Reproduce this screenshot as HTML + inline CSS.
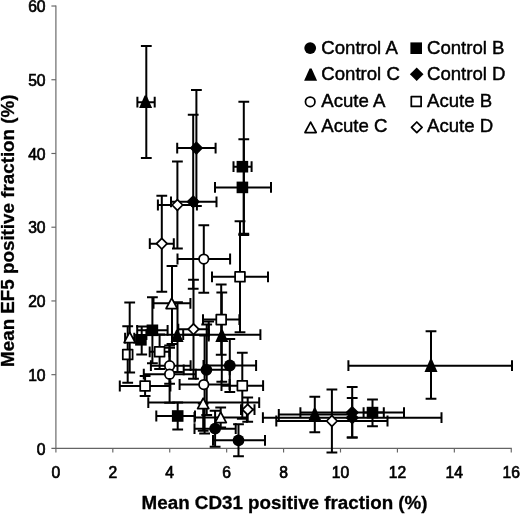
<!DOCTYPE html>
<html lang="en"><head><meta charset="utf-8"><title>Mean EF5 positive fraction vs Mean CD31 positive fraction</title>
<style>html,body{margin:0;padding:0;background:#fff}body{width:520px;height:514px;overflow:hidden}</style></head>
<body>
<svg width="520" height="514" viewBox="0 0 520 514" style="display:block">
<rect width="520" height="514" fill="#fff"/>
<g stroke="#646464" stroke-width="1.15" fill="none">
<line x1="55.9" y1="5.4" x2="55.9" y2="452.5"/>
<line x1="51.4" y1="448.4" x2="511.8" y2="448.4"/>
<line x1="51.4" y1="374.67" x2="55.9" y2="374.67"/>
<line x1="51.4" y1="300.94" x2="55.9" y2="300.94"/>
<line x1="51.4" y1="227.21" x2="55.9" y2="227.21"/>
<line x1="51.4" y1="153.48" x2="55.9" y2="153.48"/>
<line x1="51.4" y1="79.75" x2="55.9" y2="79.75"/>
<line x1="51.4" y1="6.02" x2="55.9" y2="6.02"/>
<line x1="112.82" y1="448.4" x2="112.82" y2="452.5"/>
<line x1="169.74" y1="448.4" x2="169.74" y2="452.5"/>
<line x1="226.66" y1="448.4" x2="226.66" y2="452.5"/>
<line x1="283.58" y1="448.4" x2="283.58" y2="452.5"/>
<line x1="340.50" y1="448.4" x2="340.50" y2="452.5"/>
<line x1="397.42" y1="448.4" x2="397.42" y2="452.5"/>
<line x1="454.34" y1="448.4" x2="454.34" y2="452.5"/>
<line x1="511.26" y1="448.4" x2="511.26" y2="452.5"/>
</g>
<g font-family="'Liberation Sans', sans-serif" font-size="15.7" fill="#000" stroke="#000" stroke-width="0.65">
<text x="45.6" y="454.6" text-anchor="end">0</text>
<text x="45.6" y="380.9" text-anchor="end">10</text>
<text x="45.6" y="307.1" text-anchor="end">20</text>
<text x="45.6" y="233.4" text-anchor="end">30</text>
<text x="45.6" y="159.7" text-anchor="end">40</text>
<text x="45.6" y="85.9" text-anchor="end">50</text>
<text x="45.6" y="12.2" text-anchor="end">60</text>
<text x="55.9" y="477.6" text-anchor="middle">0</text>
<text x="112.8" y="477.6" text-anchor="middle">2</text>
<text x="169.7" y="477.6" text-anchor="middle">4</text>
<text x="226.7" y="477.6" text-anchor="middle">6</text>
<text x="283.6" y="477.6" text-anchor="middle">8</text>
<text x="340.5" y="477.6" text-anchor="middle">10</text>
<text x="397.4" y="477.6" text-anchor="middle">12</text>
<text x="454.3" y="477.6" text-anchor="middle">14</text>
<text x="511.3" y="477.6" text-anchor="middle">16</text>
</g>
<g font-family="'Liberation Sans', sans-serif" font-size="18.8" font-weight="bold" fill="#000" stroke="#000" stroke-width="0.3">
<text x="284.6" y="508.6" text-anchor="middle">Mean CD31 positive fraction (%)</text>
<text transform="translate(13.9,230.7) rotate(-90)" text-anchor="middle" font-size="18.8">Mean EF5 positive fraction (%)</text>
</g>
<g font-family="'Liberation Sans', sans-serif" font-size="18.6" fill="#000" stroke="#000" stroke-width="0.45">
<circle cx="310.2" cy="48.1" r="5.9" fill="#000" stroke="none"/>
<text x="321.3" y="54.3">Control A</text>
<rect x="410.4" y="42.4" width="11.6" height="11.6" fill="#000" stroke="none"/>
<text x="427" y="54.3">Control B</text>
<polygon points="309.6,68.4 311.6,68.4 317.1,80.8 304.1,80.8" fill="#000" stroke="none"/>
<text x="321.3" y="80">Control C</text>
<polygon points="416.7,67.5 423.5,74.3 416.7,81.1 409.9,74.3" fill="#000" stroke="none"/>
<text x="427" y="80">Control D</text>
<circle cx="310.2" cy="101.8" r="4.75" fill="#fff" stroke="#000" stroke-width="1.75" stroke-linejoin="round"/>
<text x="321.3" y="107.2">Acute A</text>
<rect x="411.3" y="96.6" width="9.8" height="9.8" fill="#fff" stroke="#000" stroke-width="1.75" stroke-linejoin="round"/>
<text x="427" y="107.2">Acute B</text>
<polygon points="310.6,122.1 310.6,122.1 316.2,132.5 305.0,132.5" fill="#fff" stroke="#000" stroke-width="1.75" stroke-linejoin="round"/>
<text x="321.3" y="132.2">Acute C</text>
<polygon points="416.8,122.0 422.1,127.3 416.8,132.6 411.5,127.3" fill="#fff" stroke="#000" stroke-width="1.75" stroke-linejoin="round"/>
<text x="427" y="132.2">Acute D</text>
</g>
<path d="M208.7,321.5V341.5M203.3,321.5h10.8" stroke="#000" stroke-width="2" fill="none"/>
<g stroke="#000" stroke-width="2.0" fill="none">
<path d="M206.7,324.6V415.0M201.3,324.6h10.8M201.3,415.0h10.8M183.7,369.8H229.7M183.7,364.4v10.8M229.7,364.4v10.8"/>
<path d="M229.8,339.0V392.0M224.4,339.0h10.8M224.4,392.0h10.8M203.5,365.5H256.1M203.5,360.1v10.8M256.1,360.1v10.8"/>
<path d="M215.1,410.7V446.7M209.7,410.7h10.8M209.7,446.7h10.8M194.5,428.7H235.7M194.5,423.3v10.8M235.7,423.3v10.8"/>
<path d="M238.5,424.3V456.3M233.1,424.3h10.8M233.1,456.3h10.8M213.0,440.3H265.0M213.0,434.9v10.8M265.0,434.9v10.8"/>
</g>
<circle cx="206.4" cy="369.8" r="5.9" fill="#000" stroke="none"/>
<circle cx="229.8" cy="365.5" r="5.9" fill="#000" stroke="none"/>
<circle cx="215.1" cy="428.7" r="5.9" fill="#000" stroke="none"/>
<circle cx="238.5" cy="440.3" r="5.9" fill="#000" stroke="none"/>
<g stroke="#000" stroke-width="2.0" fill="none">
<path d="M243.8,101.8V233.8M238.4,101.8h10.8M238.4,233.8h10.8M233.5,166.7H251.6M233.5,161.3v10.8M251.6,161.3v10.8"/>
<path d="M243.8,139.2V235.0M238.4,139.2h10.8M238.4,235.0h10.8M215.0,187.4H271.0M215.0,182.0v10.8M271.0,182.0v10.8"/>
<path d="M141.7,326.5V354.6M136.3,326.5h10.8M136.3,354.6h10.8"/>
<path d="M152.4,297.3V363.3M147.0,297.3h10.8M147.0,363.3h10.8M137.2,330.3H167.6M137.2,324.9v10.8M167.6,324.9v10.8"/>
<path d="M177.7,402.5V429.5M172.3,402.5h10.8M172.3,429.5h10.8M156.3,416.0H195.0M156.3,410.6v10.8M195.0,410.6v10.8"/>
<path d="M372.5,399.4V426.3M367.1,399.4h10.8M367.1,426.3h10.8M363.6,412.6H383.8M363.6,407.2v10.8M383.8,407.2v10.8"/>
</g>
<rect x="236.6" y="160.9" width="11.6" height="11.6" fill="#000" stroke="none"/>
<rect x="236.6" y="181.6" width="11.6" height="11.6" fill="#000" stroke="none"/>
<rect x="135.1" y="334.0" width="11.6" height="11.6" fill="#000" stroke="none"/>
<rect x="146.6" y="324.5" width="11.6" height="11.6" fill="#000" stroke="none"/>
<rect x="171.9" y="410.2" width="11.6" height="11.6" fill="#000" stroke="none"/>
<rect x="366.7" y="406.8" width="11.6" height="11.6" fill="#000" stroke="none"/>
<g stroke="#000" stroke-width="2.0" fill="none">
<path d="M146.3,45.9V158.0M140.9,45.9h10.8M140.9,158.0h10.8M137.4,102.2H154.7M137.4,96.8v10.8M154.7,96.8v10.8"/>
<path d="M177.5,302.2V372.0M172.1,302.2h10.8M172.1,372.0h10.8M146.4,334.7H208.6M146.4,329.3v10.8M208.6,329.3v10.8"/>
<path d="M221.8,292.4V381.8M216.4,292.4h10.8M216.4,381.8h10.8M183.2,334.7H260.4M183.2,329.3v10.8M260.4,329.3v10.8"/>
<path d="M314.8,396.7V432.3M309.4,396.7h10.8M309.4,432.3h10.8M278.8,414.5H350.8M278.8,409.1v10.8M350.8,409.1v10.8"/>
<path d="M431.0,331.3V398.8M425.6,331.3h10.8M425.6,398.8h10.8M348.4,365.7H512.0M348.4,360.3v10.8M512.0,360.3v10.8"/>
</g>
<polygon points="144.6,95.6 146.6,95.6 152.1,108.0 139.1,108.0" fill="#000" stroke="none"/>
<polygon points="176.1,329.7 178.1,329.7 183.6,342.1 170.6,342.1" fill="#000" stroke="none"/>
<polygon points="220.8,329.7 222.8,329.7 228.3,342.1 215.3,342.1" fill="#000" stroke="none"/>
<polygon points="313.8,408.3 315.8,408.3 321.3,420.7 308.3,420.7" fill="#000" stroke="none"/>
<polygon points="430.0,359.5 432.0,359.5 437.5,371.9 424.5,371.9" fill="#000" stroke="none"/>
<g stroke="#000" stroke-width="2.0" fill="none">
<path d="M196.4,90.1V206.1M191.0,90.1h10.8M191.0,206.1h10.8M177.2,148.1H215.6M177.2,142.7v10.8M215.6,142.7v10.8"/>
<path d="M193.2,114.8V288.8M187.8,114.8h10.8M187.8,288.8h10.8M171.0,201.8H216.5M171.0,196.4v10.8M216.5,196.4v10.8"/>
<path d="M352.2,387.0V437.6M346.8,387.0h10.8M346.8,437.6h10.8M300.4,412.6H404.0M300.4,407.2v10.8M404.0,407.2v10.8"/>
<path d="M352.2,398.0V437.4M346.8,398.0h10.8M346.8,437.4h10.8M262.9,417.7H441.5M262.9,412.3v10.8M441.5,412.3v10.8"/>
</g>
<polygon points="196.4,141.3 203.2,148.1 196.4,154.9 189.6,148.1" fill="#000" stroke="none"/>
<polygon points="193.2,195.0 200.0,201.8 193.2,208.6 186.4,201.8" fill="#000" stroke="none"/>
<polygon points="352.2,405.8 359.0,412.6 352.2,419.4 345.4,412.6" fill="#000" stroke="none"/>
<polygon points="352.2,410.9 359.0,417.7 352.2,424.5 345.4,417.7" fill="#000" stroke="none"/>
<g stroke="#000" stroke-width="2.0" fill="none">
<path d="M203.8,225.2V292.8M198.4,225.2h10.8M198.4,292.8h10.8M177.5,259.0H230.1M177.5,253.6v10.8M230.1,253.6v10.8"/>
<path d="M169.6,347.7V383.7M164.2,347.7h10.8M164.2,383.7h10.8M150.9,365.7H190.6M150.9,360.3v10.8M190.6,360.3v10.8"/>
<path d="M169.6,345.6V402.8M164.2,345.6h10.8M164.2,402.8h10.8M143.8,374.2H195.8M143.8,368.8v10.8M195.8,368.8v10.8"/>
<path d="M204.6,335.5V433.5M199.2,335.5h10.8M199.2,433.5h10.8M179.6,384.5H229.6M179.6,379.1v10.8M229.6,379.1v10.8"/>
</g>
<circle cx="203.8" cy="259.0" r="4.75" fill="#fff" stroke="#000" stroke-width="1.75" stroke-linejoin="round"/>
<circle cx="169.6" cy="365.7" r="4.75" fill="#fff" stroke="#000" stroke-width="1.75" stroke-linejoin="round"/>
<circle cx="169.6" cy="374.2" r="4.75" fill="#fff" stroke="#000" stroke-width="1.75" stroke-linejoin="round"/>
<circle cx="203.8" cy="384.5" r="4.75" fill="#fff" stroke="#000" stroke-width="1.75" stroke-linejoin="round"/>
<g stroke="#000" stroke-width="2.0" fill="none">
<path d="M240.0,221.3V332.3M234.6,221.3h10.8M234.6,332.3h10.8M212.0,276.8H268.0M212.0,271.4v10.8M268.0,271.4v10.8"/>
<path d="M221.2,284.4V354.8M215.8,284.4h10.8M215.8,354.8h10.8M203.0,319.6H239.4M203.0,314.2v10.8M239.4,314.2v10.8"/>
<path d="M127.7,326.3V382.7M122.3,326.3h10.8M122.3,382.7h10.8"/>
<path d="M159.6,334.5V369.1M154.2,334.5h10.8M154.2,369.1h10.8M149.7,351.8H169.5M149.7,346.4v10.8M169.5,346.4v10.8"/>
<path d="M145.1,376.1V395.9M139.7,376.1h10.8M139.7,395.9h10.8M119.8,386.0H170.4M119.8,380.6v10.8M170.4,380.6v10.8"/>
<path d="M242.3,352.7V418.7M236.9,352.7h10.8M236.9,418.7h10.8M221.5,385.7H263.1M221.5,380.3v10.8M263.1,380.3v10.8"/>
</g>
<rect x="235.1" y="271.9" width="9.8" height="9.8" fill="#fff" stroke="#000" stroke-width="1.75" stroke-linejoin="round"/>
<rect x="216.3" y="314.7" width="9.8" height="9.8" fill="#fff" stroke="#000" stroke-width="1.75" stroke-linejoin="round"/>
<rect x="122.8" y="349.6" width="9.8" height="9.8" fill="#fff" stroke="#000" stroke-width="1.75" stroke-linejoin="round"/>
<rect x="154.7" y="346.9" width="9.8" height="9.8" fill="#fff" stroke="#000" stroke-width="1.75" stroke-linejoin="round"/>
<rect x="140.2" y="381.1" width="9.8" height="9.8" fill="#fff" stroke="#000" stroke-width="1.75" stroke-linejoin="round"/>
<rect x="237.4" y="380.8" width="9.8" height="9.8" fill="#fff" stroke="#000" stroke-width="1.75" stroke-linejoin="round"/>
<g stroke="#000" stroke-width="2.0" fill="none">
<path d="M172.0,265.9V344.0M166.6,265.9h10.8M166.6,344.0h10.8M153.5,303.3H190.4M153.5,297.9v10.8M190.4,297.9v10.8"/>
<path d="M129.7,302.5V372.6M124.3,302.5h10.8M124.3,372.6h10.8M125.1,338.2H134.3M125.1,332.8v10.8M134.3,332.8v10.8"/>
<path d="M203.2,403.5V430.7M197.8,403.5h10.8M197.8,430.7h10.8M148.3,402.6H259.2M148.3,397.2v10.8M259.2,397.2v10.8"/>
<path d="M220.7,407.4V427.4M215.3,407.4h10.8M215.3,427.4h10.8M194.5,417.4H246.9M194.5,412.0v10.8M246.9,412.0v10.8"/>
</g>
<polygon points="171.7,298.1 171.7,298.1 177.3,308.5 166.1,308.5" fill="#fff" stroke="#000" stroke-width="1.75" stroke-linejoin="round"/>
<polygon points="129.7,332.2 129.7,332.2 135.3,342.6 124.1,342.6" fill="#fff" stroke="#000" stroke-width="1.75" stroke-linejoin="round"/>
<polygon points="203.2,398.2 203.2,398.2 208.8,408.6 197.6,408.6" fill="#fff" stroke="#000" stroke-width="1.75" stroke-linejoin="round"/>
<polygon points="220.7,412.2 220.7,412.2 226.3,422.6 215.1,422.6" fill="#fff" stroke="#000" stroke-width="1.75" stroke-linejoin="round"/>
<g stroke="#000" stroke-width="2.0" fill="none">
<path d="M177.4,161.5V248.5M172.0,161.5h10.8M172.0,248.5h10.8M157.9,205.0H196.9M157.9,199.6v10.8M196.9,199.6v10.8"/>
<path d="M161.8,195.7V291.7M156.4,195.7h10.8M156.4,291.7h10.8M149.8,243.7H173.8M149.8,238.3v10.8M173.8,238.3v10.8"/>
<path d="M193.5,279.7V378.7M188.1,279.7h10.8M188.1,378.7h10.8M178.3,329.2H208.7M178.3,323.8v10.8M208.7,323.8v10.8"/>
<path d="M247.7,397.4V421.8M242.3,397.4h10.8M242.3,421.8h10.8M241.0,409.6H254.5M241.0,404.2v10.8M254.5,404.2v10.8"/>
<path d="M331.9,389.6V452.4M326.5,389.6h10.8M326.5,452.4h10.8M276.3,421.0H387.5M276.3,415.6v10.8M387.5,415.6v10.8"/>
</g>
<polygon points="177.4,199.7 182.7,205.0 177.4,210.3 172.1,205.0" fill="#fff" stroke="#000" stroke-width="1.75" stroke-linejoin="round"/>
<polygon points="161.8,238.4 167.1,243.7 161.8,249.0 156.5,243.7" fill="#fff" stroke="#000" stroke-width="1.75" stroke-linejoin="round"/>
<polygon points="193.5,323.9 198.8,329.2 193.5,334.5 188.2,329.2" fill="#fff" stroke="#000" stroke-width="1.75" stroke-linejoin="round"/>
<polygon points="247.7,404.3 253.0,409.6 247.7,414.9 242.4,409.6" fill="#fff" stroke="#000" stroke-width="1.75" stroke-linejoin="round"/>
<polygon points="331.9,415.7 337.2,421.0 331.9,426.3 326.6,421.0" fill="#fff" stroke="#000" stroke-width="1.75" stroke-linejoin="round"/>
</svg>
</body></html>
